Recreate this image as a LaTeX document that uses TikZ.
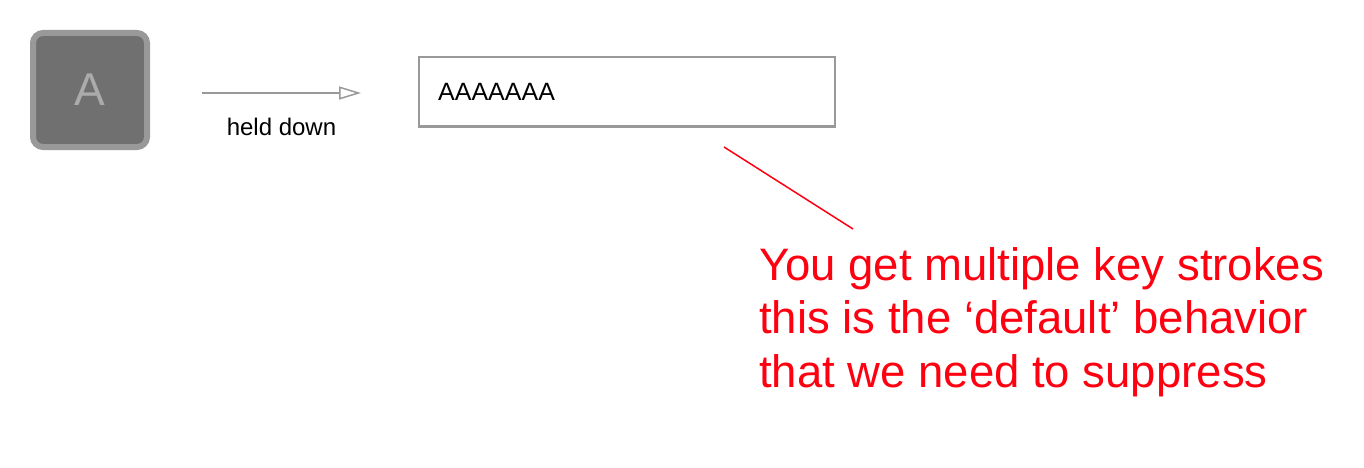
\documentclass[tikz,border=0pt]{standalone}
\usepackage{fontspec}
\setmainfont{Liberation Sans}
\usetikzlibrary{arrows.meta}
\definecolor{keyrim}{HTML}{999999}
\definecolor{keyface}{HTML}{707070}
\definecolor{keyletter}{HTML}{ABABAB}
\definecolor{notered}{HTML}{FF0010}
\tikzset{
  keycap/.style={draw=keyrim, line width=6pt, fill=keyface, rounded corners=10pt,
    minimum width=114pt, minimum height=114pt, text=keyletter,
    font=\fontsize{46}{46}\selectfont},
  inputfield/.style={draw=keyrim, line width=2pt, minimum width=416pt,
    minimum height=69pt},
  fieldtext/.style={inner sep=0pt, anchor=base west, font=\fontsize{25}{25}\selectfont},
  notetext/.style={inner sep=0pt, anchor=base west, align=left, text=notered,
    font=\fontsize{45.5}{53.5}\selectfont}
}
\begin{document}
\begin{tikzpicture}[x=1pt,y=-1pt,>={Triangle[open,length=22pt,width=13pt]}]
		\useasboundingbox (0,0) rectangle (1364,468);
		%			\draw [help lines] (0,0) grid (1364,468);
		\node [keycap] (key) at (90,90) {A};
		\node [inputfield] (field) at (626.5,92) {};
		\node [fieldtext] (typed) at (438,101) {AAAAAAA};
		\coordinate (holdstart) at (202,93);
		\coordinate (holdend) at (361,93);
		\draw [->, keyrim, line width=1.5pt] (holdstart) -- (holdend) node [pos=0.5, below=21pt, black, font=\fontsize{24}{24}\selectfont] (held) {held down};
		\node [notetext] (note) at (759,387) {You get multiple key strokes\\this is the ‘default’ behavior\\that we need to suppress};
		\coordinate (pointfrom) at (724,147);
		\coordinate (pointto) at (853,229);
		\draw [notered, line width=1.5pt] (pointfrom) -- (pointto);
	\end{tikzpicture}
\end{document}
